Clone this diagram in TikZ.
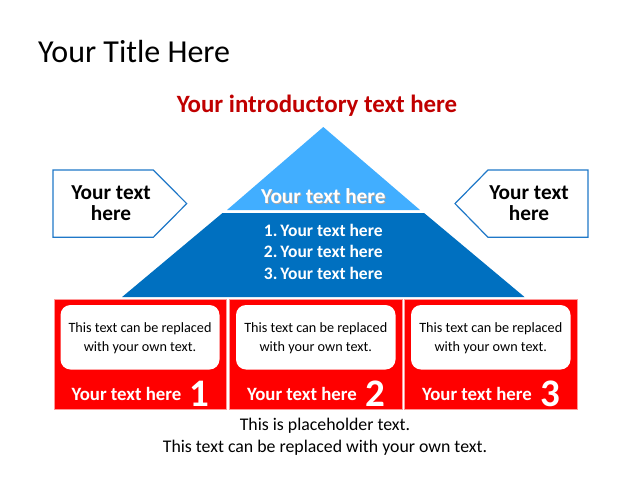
\documentclass[tikz,border=0pt]{standalone}
\usepackage{fontspec}
\setmainfont{Carlito}
\usetikzlibrary{calc}
\definecolor{lightblue}{HTML}{41AEFF}
\definecolor{darkblue}{HTML}{0070C0}
\definecolor{boxred}{HTML}{FF0000}
\definecolor{introred}{HTML}{C00000}
\definecolor{arrowblue}{HTML}{1F78C8}
\tikzset{
  redbox/.style={fill=boxred, draw=boxred!40, line width=0.5pt},
  innerbox/.style={fill=white, rounded corners=10pt},
  boxtext/.style={align=center, font=\fontsize{14.2}{18.5}\selectfont, text=black},
  footlabel/.style={anchor=west, text=white, font=\bfseries\fontsize{18.8}{20}\selectfont},
  digit/.style={anchor=east, text=white, font=\bfseries\fontsize{39}{39}\selectfont},
  pentagon/.style={draw=arrowblue, fill=white, line width=1.2pt, line join=miter},
  pentext/.style={align=center, font=\bfseries\fontsize{21.3}{21.5}\selectfont, text=black},
}
\begin{document}
\begin{tikzpicture}[x=1pt,y=-1pt]
\useasboundingbox (0,0) rectangle (640,480);
% Title
\node[anchor=base west, inner sep=0pt, font=\fontsize{32}{34}\selectfont] (title) at (38,62) {Your Title Here};
\node[anchor=base, inner sep=0pt, text=introred, font=\bfseries\fontsize{24.9}{26}\selectfont] (intro) at (317,112.5) {Your introductory text here};
% Pyramid
\fill[lightblue] (323.3,127) -- (420,210) -- (227,210) -- cycle;
\fill[darkblue] (222.5,213) -- (424.1,213) -- (524.5,297) -- (122.1,297) -- cycle;
\coordinate (ptop) at (323.3,196);
\node[text=black!35, font=\bfseries\fontsize{21.3}{22}\selectfont] at ($(ptop)+(1,1)$) {Your text here};
\node[text=white, font=\bfseries\fontsize{21.3}{22}\selectfont] (toptext) at (ptop) {Your text here};
\node[text=white, align=left, font=\bfseries\fontsize{17.5}{21.5}\selectfont] (list) at (323.3,251.5) {1.\,Your text here\\2.\,Your text here\\3.\,Your text here};
% Side pentagons
\draw[pentagon] (53,170) -- (153.3,170) -- (186.7,203.6) -- (153.3,237.3) -- (53,237.3) -- cycle;
\node[pentext] (lefttext) at (111,203) {Your text\\here};
\draw[pentagon] (588,170) -- (488,170) -- (455,203.6) -- (488,237.3) -- (588,237.3) -- cycle;
\node[pentext] (righttext) at (529,203) {Your text\\here};
% Red boxes
\foreach \i/\xa/\xb in {1/54/226, 2/229.5/402, 3/404.5/577} {
  \draw[redbox] (\xa,299) rectangle (\xb,409);
  \fill[innerbox] (\xa+6.5,305) rectangle (\xb-6.5,369.5);
  \node[boxtext] (bt\i) at ({(\xa+\xb)/2},338) {This text can be replaced\\with your own text.};
  \node[footlabel] (fl\i) at (\xa+14,394) {Your text here};
  \node[digit] (dg\i) at (\xb-13,394) {\i};
}
% Bottom text
\node[align=center, font=\fontsize{17.8}{22}\selectfont] (bottom) at (325,437) {This is placeholder text.\\This text can be replaced with your own text.};
\end{tikzpicture}
\end{document}
